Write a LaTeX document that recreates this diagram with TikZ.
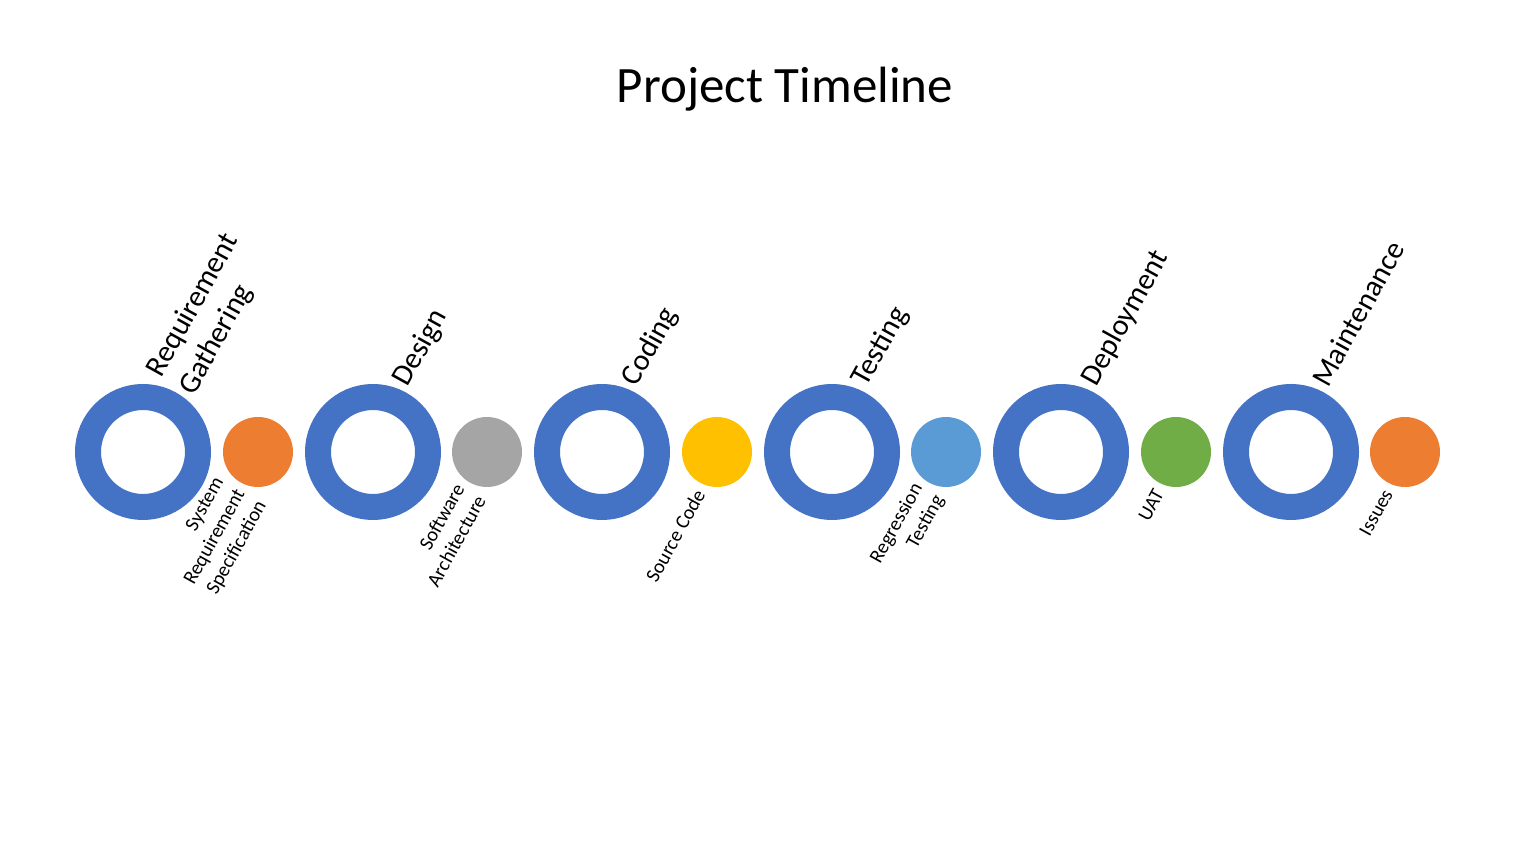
\documentclass[tikz,border=0pt]{standalone}
\usepackage{fontspec}
\setmainfont{Carlito}
\usetikzlibrary{positioning}

\definecolor{ringblue}{HTML}{4472C4}
\definecolor{dotorange}{HTML}{ED7D31}
\definecolor{dotgray}{HTML}{A5A5A5}
\definecolor{dotyellow}{HTML}{FFC000}
\definecolor{dotlightblue}{HTML}{5B9BD5}
\definecolor{dotgreen}{HTML}{70AD47}

\begin{document}
\begin{tikzpicture}[x=1pt,y=1pt]

\tikzset{ring/.style = {shape=circle,draw=ringblue,line width=26pt,minimum size=110pt,inner sep=0pt}}
\tikzset{dot/.style = {shape=circle,minimum size=70pt,inner sep=0pt}}
\tikzset{phase/.style = {rotate=61,anchor=west,align=left,inner sep=0pt,font=\fontsize{30}{37}\selectfont}}
\tikzset{output/.style = {rotate=61,anchor=east,align=right,inner sep=0pt,font=\fontsize{20}{24.5}\selectfont}}

\fill[white] (0,0) rectangle (1536,864);
\useasboundingbox (0,0) rectangle (1536,864);

%title
\node[anchor=base,font=\fontsize{51}{60}\selectfont] (title) at (785,761) {Project Timeline};

%rings
\node[ring] (r1) at (143,412) {};
\node[ring] (r2) at (373,412) {};
\node[ring] (r3) at (602,412) {};
\node[ring] (r4) at (832,412) {};
\node[ring] (r5) at (1061,412) {};
\node[ring] (r6) at (1291,412) {};
%dots
\node[dot, fill=dotorange] (d1) at (258,412) {};
\node[dot, fill=dotgray] (d2) at (487,412) {};
\node[dot, fill=dotyellow] (d3) at (717,412) {};
\node[dot, fill=dotlightblue] (d4) at (946,412) {};
\node[dot, fill=dotgreen] (d5) at (1176,412) {};
\node[dot, fill=dotorange] (d6) at (1405,412) {};
%phases
\node[phase] (p1) at ([shift={(28,68)}]r1.center) {Requirement\\Gathering};
\node[phase] (p2) at ([shift={(28,68)}]r2.center) {Design};
\node[phase] (p3) at ([shift={(28,68)}]r3.center) {Coding};
\node[phase] (p4) at ([shift={(28,68)}]r4.center) {Testing};
\node[phase] (p5) at ([shift={(28,68)}]r5.center) {Deployment};
\node[phase] (p6) at ([shift={(28,68)}]r6.center) {Maintenance};
%outputs
\node[output] (o1) at ([shift={(-17,-39)}]d1.center) {System\\Requirement\\Specification};
\node[output] (o2) at ([shift={(-17,-39)}]d2.center) {Software\\Architecture};
\node[output] (o3) at ([shift={(-17,-39)}]d3.center) {Source Code};
\node[output] (o4) at ([shift={(-17,-39)}]d4.center) {Regression\\Testing};
\node[output] (o5) at ([shift={(-17,-39)}]d5.center) {UAT};
\node[output] (o6) at ([shift={(-17,-39)}]d6.center) {Issues};

\end{tikzpicture}
\end{document}
